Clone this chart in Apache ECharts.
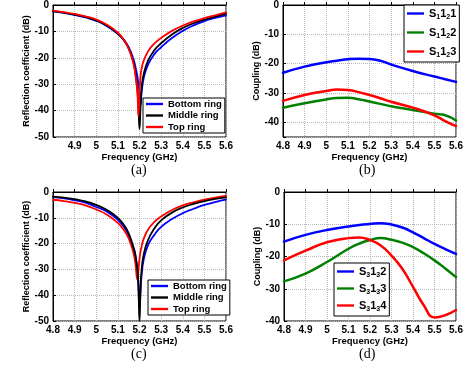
<!DOCTYPE html>
<html><head><meta charset="utf-8">
<script src="https://cdn.jsdelivr.net/npm/echarts@6/dist/echarts.min.js"></script>
<style>html,body{margin:0;padding:0;background:#fff}#c{width:474px;height:368px}</style>
</head><body><div id="c"></div>
<script>
// ---------- DATA ----------
const freqA = [4.8,4.85,4.9,4.95,5.0,5.05,5.1,5.13,5.15,5.17,5.18,5.19,5.195,5.2,5.205,5.21,5.22,5.24,5.27,5.3,5.35,5.4,5.45,5.5,5.55,5.6];
const aBottom = [-2.4,-3.0,-3.8,-4.7,-6.0,-8.0,-11,-13.5,-16,-20,-23,-27,-30,-33,-38,-33,-27.5,-22.5,-18.5,-16,-12.5,-9.8,-7.7,-6.1,-4.9,-3.9];
const aMiddle = [-2.3,-2.9,-3.6,-4.5,-5.8,-7.8,-10.8,-13.5,-16.5,-21,-25,-32,-38,-47,-38,-31,-26,-21,-17,-14.5,-11.2,-8.7,-6.9,-5.5,-4.4,-3.3];
const aTop    = [-2.1,-2.7,-3.4,-4.3,-5.5,-7.5,-10.5,-13.5,-16.5,-21.5,-26,-33,-42,-33,-27,-24,-21,-17.5,-14.5,-12.5,-9.8,-7.8,-6.2,-5,-3.9,-2.8];

const freqC = freqA;
const cBottom = [-2,-2.5,-3.2,-4.1,-5.8,-7.6,-10.8,-13.8,-16.8,-21,-24,-30,-36,-45,-38,-32,-26,-20.5,-16.5,-13.5,-10.5,-8.2,-6.5,-5.0,-3.9,-3.0];
const cMiddle = [-1.8,-2.2,-2.8,-3.6,-5,-7,-10,-13,-16,-21,-24,-30,-37,-50,-37,-30,-24,-18.5,-14,-11,-8,-6,-4.6,-3.5,-2.7,-2.1];
const cTop    = [-3,-3.5,-4.2,-5.2,-6.8,-8.8,-12,-15,-18,-23,-27,-34,-30,-26,-23,-21,-18,-14.5,-11.5,-9.5,-7,-5.2,-4,-3,-2.2,-1.5];

const freqB = [4.8,4.9,5.0,5.05,5.1,5.15,5.2,5.25,5.3,5.4,5.5,5.55,5.6];
const bS1121 = [-23.1,-21,-19.5,-19,-18.5,-18.3,-18.4,-19,-20.3,-22.5,-24.4,-25.3,-26.2];
const bS1122 = [-35,-33.5,-32.2,-31.7,-31.6,-32.1,-32.9,-33.7,-34.5,-35.8,-37.1,-37.6,-39.4];
const bS1123 = [-32.7,-30.7,-29.3,-28.8,-29,-29.7,-30.7,-31.8,-33,-35,-37.6,-39.6,-41.3];

const freqD = [4.8,4.9,5.0,5.1,5.15,5.2,5.25,5.3,5.35,5.4,5.45,5.5,5.55,5.6];
const dS3132 = [-15.4,-13.3,-11.8,-10.7,-10.2,-9.9,-9.7,-10.1,-11,-12.5,-14.3,-16.1,-17.7,-19.2];
const dS3133 = [-27.7,-25.3,-21.7,-17.6,-16,-14.9,-14.3,-14.8,-15.7,-17.1,-19,-21.2,-23.7,-26.4];
const dS3134 = [-21.2,-18.2,-15.6,-14.3,-14.1,-14.9,-16.6,-19.7,-23.8,-29.4,-35.1,-38.9,-38.2,-36.6];

const ringNames = ['Bottom ring','Middle ring','Top ring'];
const bNames = ['S1121','S1122','S1123'];
const dNames = ['S3132','S3133','S3134'];
const xTitle = 'Frequency (GHz)';
const yTitleRefl = 'Reflection coefficient (dB)';
const yTitleCoup = 'Coupling (dB)';
const captions = ['(a)','(b)','(c)','(d)'];

// ---------- STYLE ----------
const FONT = '"Liberation Sans", Arial, sans-serif';
const BLUE = '#0000ff', BLACK = '#000000', RED = '#ff0000', GREEN = '#008000';
const pairs = (xs, ys) => xs.map((x, i) => [x, ys[i]]);

const grids = [
  {left: 53, top: 5, width: 173, height: 132},
  {left: 283, top: 5, width: 173, height: 132},
  {left: 53, top: 192, width: 173, height: 129},
  {left: 284, top: 192, width: 172, height: 129}
].map(g => Object.assign(g, {show: true, borderColor: '#000', borderWidth: 1, backgroundColor: '#fff'}));

function xAx(i, showMin) {
  return {
    type: 'value', gridIndex: i, min: 4.8, max: 5.6, interval: 0.1,
    name: xTitle, nameLocation: 'middle', nameGap: 15,
    nameTextStyle: {fontFamily: FONT, fontSize: 9.5, fontWeight: 'bold', color: '#000'},
    axisLine: {show: true, lineStyle: {color: '#000', width: 1}},
    axisTick: {show: true, inside: true, length: 3, lineStyle: {color: '#000'}},
    axisLabel: {fontFamily: FONT, fontSize: 10, fontWeight: 'bold', color: '#000', margin: 4, showMinLabel: showMin,
      formatter: v => (Math.round(v * 10) / 10).toString()},
    splitLine: {show: true, lineStyle: {color: '#b8b8b8', type: 'dotted', width: 1}}
  };
}
function yAx(i, min, name, gap) {
  return {
    type: 'value', gridIndex: i, min: min, max: 0,
    interval: (min % 10 === 0) ? 10 : undefined,
    splitNumber: 5,
    name: name, nameLocation: 'middle', nameGap: gap,
    nameTextStyle: {fontFamily: FONT, fontSize: 9, fontWeight: 'bold', color: '#000'},
    axisLine: {show: true, lineStyle: {color: '#000', width: 1}},
    axisTick: {show: true, inside: true, length: 3, lineStyle: {color: '#000'}},
    axisLabel: {fontFamily: FONT, fontSize: 10, fontWeight: 'bold', color: '#000', margin: 4,
      formatter: v => (v % 10 === 0 ? String(v) : '')},
    splitLine: {show: true, lineStyle: {color: '#b8b8b8', type: 'dotted', width: 1}}
  };
}
function ln(name, idx, xs, ys, color, w, z) {
  return {type: 'line', name: name, xAxisIndex: idx, yAxisIndex: idx, data: pairs(xs, ys),
    symbol: 'none', smooth: 0.5, z: z || 2,
    lineStyle: {color: color, width: w, join: 'round', cap: 'round'}, itemStyle: {color: color}, clip: true};
}
const subFmt = n => '{n|S}{s|' + n[1] + '}{n|' + n[2] + '}{s|' + n[3] + '}{n|' + n[4] + '}';
const legBase = {orient: 'vertical', backgroundColor: '#fff', borderColor: '#000', borderWidth: 1, borderRadius: 0,
  itemWidth: 17, itemHeight: 9, icon: 'path://M0,0 L18,0 L18,2.5 L0,2.5 Z'};
const ringText = {fontFamily: FONT, fontSize: 9.5, fontWeight: 'bold', color: '#000'};
const subRich = {
  n: {fontFamily: FONT, fontSize: 11, fontWeight: 'bold', color: '#000', lineHeight: 15},
  s: {fontFamily: FONT, fontSize: 7, fontWeight: 'bold', color: '#000', lineHeight: 8, verticalAlign: 'bottom'}
};

const option = {
  animation: false,
  backgroundColor: '#fff',
  grid: grids,
  xAxis: [xAx(0, false), xAx(1, true), xAx(2, true), xAx(3, true)],
  yAxis: [yAx(0, -50, yTitleRefl, 22), yAx(1, -45, yTitleCoup, 20), yAx(2, -50, yTitleRefl, 22), yAx(3, -40, yTitleCoup, 20)],
  legend: [
    Object.assign({}, legBase, {data: ringNames, left: 143, top: 98, padding: [1, 3, 1, 3], itemGap: 1.5, textStyle: ringText}),
    Object.assign({}, legBase, {data: bNames, left: 404, top: 5, padding: [3, 3, 3, 3], itemGap: 6,
      formatter: subFmt, textStyle: {color: '#000', rich: subRich}}),
    Object.assign({}, legBase, {data: ringNames, left: 148, top: 280, padding: [1, 3, 1, 3], itemGap: 1.5, textStyle: ringText}),
    Object.assign({}, legBase, {data: dNames, left: 334, top: 263, padding: [3, 3, 3, 3], itemGap: 4,
      formatter: subFmt, textStyle: {color: '#000', rich: subRich}})
  ],
  series: [
    ln(ringNames[0], 0, freqA, aBottom, BLUE, 1.8),
    ln(ringNames[1], 0, freqA, aMiddle, BLACK, 1.8),
    ln(ringNames[2], 0, freqA, aTop, RED, 1.8),
    ln(bNames[0], 1, freqB, bS1121, BLUE, 2.5),
    ln(bNames[1], 1, freqB, bS1122, GREEN, 2.5),
    ln(bNames[2], 1, freqB, bS1123, RED, 2.5),
    ln(ringNames[0], 2, freqC, cBottom, BLUE, 1.8),
    ln(ringNames[1], 2, freqC, cMiddle, BLACK, 1.8, 4),
    ln(ringNames[2], 2, freqC, cTop, RED, 1.8, 3),
    ln(dNames[0], 3, freqD, dS3132, BLUE, 2.5),
    ln(dNames[1], 3, freqD, dS3133, GREEN, 2.5),
    ln(dNames[2], 3, freqD, dS3134, RED, 2.5)
  ],
  graphic: [
    {type: 'text', left: 131, top: 163, style: {text: captions[0], font: '14px "Liberation Serif", "Times New Roman", serif', fill: '#000'}},
    {type: 'text', left: 359, top: 163, style: {text: captions[1], font: '14px "Liberation Serif", "Times New Roman", serif', fill: '#000'}},
    {type: 'text', left: 131, top: 347, style: {text: captions[2], font: '14px "Liberation Serif", "Times New Roman", serif', fill: '#000'}},
    {type: 'text', left: 359, top: 347, style: {text: captions[3], font: '14px "Liberation Serif", "Times New Roman", serif', fill: '#000'}}
  ]
};
const chart = echarts.init(document.getElementById('c'), null, {renderer: 'canvas'});
chart.setOption(option);
</script></body></html>
